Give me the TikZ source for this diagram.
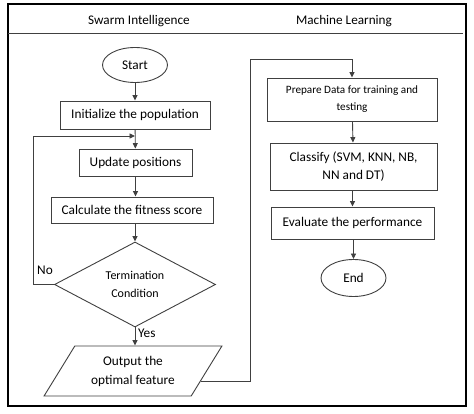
\documentclass[tikz,border=0pt]{standalone}
\usepackage{fontspec}
\setmainfont{Carlito}
\usetikzlibrary{arrows.meta,shapes.geometric,calc}
\begin{document}
\begin{tikzpicture}[x=1pt,y=-1pt,
  ln/.style={draw=black!75,line width=0.9pt},
  arr/.style={ln,-{Triangle[length=5.5pt,width=5pt]}},
  box/.style={ln,rectangle,align=center,font=\fontsize{13.3}{15}\selectfont,inner sep=2pt},
  sbox/.style={box,font=\fontsize{11.2}{17}\selectfont},
  term/.style={ln,ellipse,font=\fontsize{13.3}{15}\selectfont,inner sep=0pt,minimum width=65pt,minimum height=35pt},
  lbl/.style={font=\fontsize{13.3}{15}\selectfont,inner sep=0pt},
  hdr/.style={font=\fontsize{13.2}{15}\selectfont,inner sep=0pt}
]
\useasboundingbox (0,0) rectangle (474,414);
\fill[white] (0,0) rectangle (474,414);
\draw[line width=2.4pt] (8,4) rectangle (466,406);
\draw[black!75,line width=1pt] (8,34) -- (463,34);
\node[hdr] (h1) at (139,21) {Swarm Intelligence};
\node[hdr] (h2) at (344,21) {Machine Learning};

\node[term] (start) at (135,65) {Start};
\node[box,minimum width=150pt,minimum height=28pt] (init) at (135,115) {Initialize the population};
\node[box,minimum width=113pt,minimum height=27pt] (upd) at (135.5,162.5) {Update positions};
\node[box,minimum width=162pt,minimum height=26pt] (calc) at (132,210) {Calculate the fitness score};
\node[ln,diamond,aspect=1.9,minimum width=161pt,minimum height=85pt,inner sep=0pt,align=center,font=\fontsize{12}{17.5}\selectfont] (dia) at (135,284.5) {Termination\\Condition};
\node[ln,trapezium,trapezium left angle=54,trapezium right angle=126,trapezium stretches=true,minimum width=178pt,minimum height=50pt,inner sep=0pt,align=center,font=\fontsize{13.3}{19}\selectfont] (out) at (133,371) {Output the\\optimal feature};

\node[sbox,minimum width=170pt,minimum height=43pt] (prep) at (352,99.5) {Prepare Data for training and\\testing};
\node[box,minimum width=167pt,minimum height=47pt,font=\fontsize{13.3}{18}\selectfont] (cls) at (353.5,166.5) {Classify (SVM, KNN, NB,\\NN and DT)};
\node[box,minimum width=163pt,minimum height=32pt] (eval) at (352.5,223) {Evaluate the performance};
\node[term,minimum height=37pt] (end) at (353.5,278) {End};

\draw[arr] (start) -- (init);
\draw[arr] (init) -- (upd);
\draw[arr] (upd) -- (calc.north -| upd.south);
\draw[arr] (calc.south -| dia.north) -- (dia);
\draw[arr] (dia) -- (out.north -| dia.south);
\node[lbl,anchor=west] (yes) at (138,333) {Yes};
\coordinate (j) at (135,136);
\coordinate (lx) at (33,136);
\draw[arr] (dia.west) -- (dia.west -| lx) -- (lx) -- (j);
\node[lbl] (no) at (45,270) {No};

\coordinate (p) at ($(out.bottom right corner)!0.3!(out.top right corner)$);
\coordinate (bend) at (250,59);
\draw[arr] (p) -- (p -| bend) -- (bend) -- (bend -| prep.north) -- (prep.north);
\draw[arr] (prep) -- (cls);
\draw[arr] (cls.south -| eval.north) -- (eval);
\draw[arr] (eval.south -| end.north) -- (end);
\end{tikzpicture}
\end{document}
